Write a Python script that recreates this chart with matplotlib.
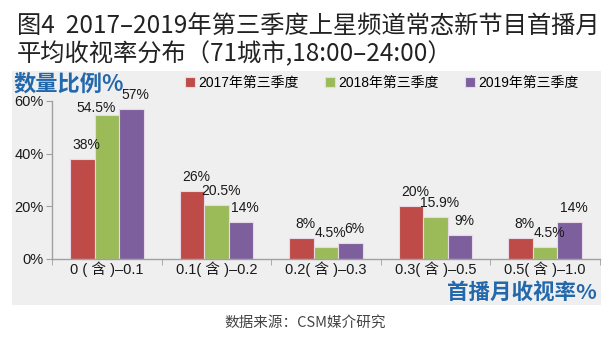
import matplotlib.pyplot as plt
from matplotlib.patches import Rectangle
from matplotlib.ticker import FixedLocator, NullFormatter

plt.rcParams['font.family'] = ['Liberation Sans', 'Noto Sans CJK SC', 'DejaVu Sans']

categories = ['0 ( 含 )–0.1', '0.1( 含 )–0.2', '0.2( 含 )–0.3', '0.3( 含 )–0.5', '0.5( 含 )–1.0']
series_names = ['2017年第三季度', '2018年第三季度', '2019年第三季度']
values_2017 = [38, 26, 8, 20, 8]
values_2018 = [54.5, 20.5, 4.5, 15.9, 4.5]
values_2019 = [57, 14, 6, 9, 14]
labels_2017 = ['38%', '26%', '8%', '20%', '8%']
labels_2018 = ['54.5%', '20.5%', '4.5%', '15.9%', '4.5%']
labels_2019 = ['57%', '14%', '6%', '9%', '14%']
y_ticks = [0, 20, 40, 60]
y_ticklabels = ['0%', '20%', '40%', '60%']

colors = ['#BE4B48', '#9BBB59', '#7D5F9D']
blue = '#2468AC'
cjk = ['Noto Sans CJK SC', 'DejaVu Sans']

W, H = 612, 363
fig = plt.figure(figsize=(W / 100, H / 100), dpi=100)

# grey panel behind the chart
panel = Rectangle((12 / W, 1 - 305 / H), (601 - 12) / W, (305 - 71) / H,
                  transform=fig.transFigure, facecolor='#EFEFEF',
                  edgecolor='none', zorder=-10)
fig.patches.append(panel)

fig.text(17 / W, 1 - 27 / H, '图4  2017–2019年第三季度上星频道常态新节目首播月',
         fontsize=17.5, family=cjk, fontweight='light',
         color='#222222', va='center', ha='left')
fig.text(17 / W, 1 - 54 / H, '平均收视率分布（71城市,18:00–24:00）',
         fontsize=17.5, family=cjk, fontweight='light',
         color='#222222', va='center', ha='left')

ax = fig.add_axes([52 / W, 1 - 259 / H, (600 - 52) / W, (259 - 101) / H])
ax.set_facecolor('none')
ax.set_zorder(5)

width = 0.224
x = list(range(len(categories)))
all_vals = [values_2017, values_2018, values_2019]
all_labels = [labels_2017, labels_2018, labels_2019]
handles = []
for i, (vals, labs) in enumerate(zip(all_vals, all_labels)):
    pos = [xi + (i - 1) * width for xi in x]
    b = ax.bar(pos, vals, width, color=colors[i], edgecolor='#E8D8E8', linewidth=0.8,
               label=series_names[i], zorder=2)
    handles.append(b)
    for j, (p, v, lab) in enumerate(zip(pos, vals, labs)):
        dx, dy = 3, 5
        # the 54.5% label sits lower-left so it does not run into 57%
        if i == 1 and j == 0:
            dx, dy = -8, 0
        ax.annotate(lab, (p, v), xytext=(dx, dy), textcoords='offset points',
                    ha='center', va='bottom', fontsize=10, color='#1A1A1A',
                    annotation_clip=False)

ax.set_xlim(-0.5, len(categories) - 0.5)
ax.set_ylim(0, 60)
ax.set_yticks(y_ticks)
ax.set_yticklabels(y_ticklabels, fontsize=10.5, color='#1A1A1A')
ax.set_xticks(x)
ax.set_xticklabels(categories, fontsize=10.5, color='#1A1A1A')
ax.xaxis.set_minor_locator(FixedLocator([k - 0.5 for k in range(len(categories) + 1)]))
ax.xaxis.set_minor_formatter(NullFormatter())
ax.tick_params(axis='x', which='major', length=0, pad=2)
ax.tick_params(axis='x', which='minor', length=4, color='#A0A0A0', direction='out')
ax.tick_params(axis='y', length=4, color='#A0A0A0', direction='out', pad=2)
for s in ['top', 'right']:
    ax.spines[s].set_visible(False)
for s in ['left', 'bottom']:
    ax.spines[s].set_color('#A0A0A0')
    ax.spines[s].set_linewidth(1)

fig.legend(handles=handles, loc='center left', bbox_to_anchor=(185 / W, 1 - 83 / H),
           ncol=3, frameon=False, fontsize=10, handlelength=0.7, handleheight=0.7,
           handletextpad=0.25, columnspacing=1.9, borderpad=0, borderaxespad=0)

fig.text(13 / W, 1 - 84 / H, '数量比例%', fontsize=16, fontweight='bold', color=blue,
         family=cjk, va='center', ha='left')
fig.text(597 / W, 1 - 292 / H, '首播月收视率%', fontsize=15.5, fontweight='bold', color=blue,
         family=cjk, va='center', ha='right')

fig.text(305 / W, 1 - 323 / H, '数据来源：CSM媒介研究', fontsize=10.5, color='#444444',
         family=cjk, fontweight='light', va='center', ha='center')

fig.savefig('out.png', dpi=100)
